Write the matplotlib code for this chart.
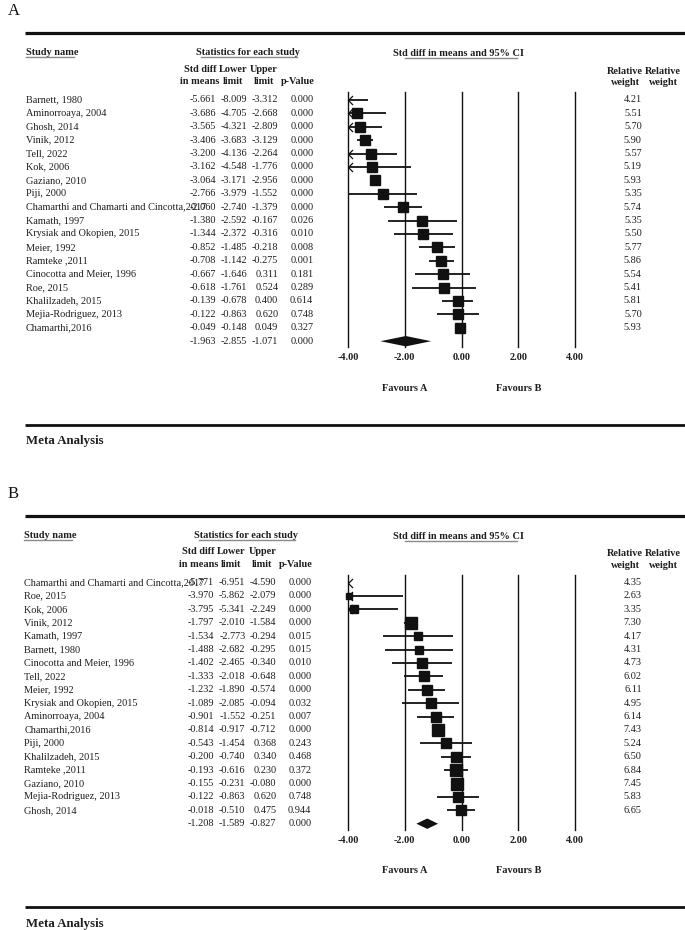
"""Two forest plots (panels A and B) in the CMA report style."""

import matplotlib

matplotlib.use("Agg")
import matplotlib.pyplot as plt
import numpy as np
from matplotlib.path import Path
from matplotlib.transforms import blended_transform_factory as blend

W, H, DPI = 685, 930, 100

# ---- panel A data ----
a_names = [
    "Barnett, 1980", "Aminorroaya, 2004", "Ghosh, 2014", "Vinik, 2012",
    "Tell, 2022", "Kok, 2006", "Gaziano, 2010", "Piji, 2000",
    "Chamarthi and Chamarti and Cincotta,2017", "Kamath, 1997",
    "Krysiak and Okopien, 2015", "Meier, 1992", "Ramteke ,2011",
    "Cinocotta and Meier, 1996", "Roe, 2015", "Khalilzadeh, 2015",
    "Mejia-Rodriguez, 2013", "Chamarthi,2016",
]
a_smd = [-5.661, -3.686, -3.565, -3.406, -3.200, -3.162, -3.064, -2.766, -2.060,
         -1.380, -1.344, -0.852, -0.708, -0.667, -0.618, -0.139, -0.122, -0.049]
a_lo = [-8.009, -4.705, -4.321, -3.683, -4.136, -4.548, -3.171, -3.979, -2.740,
        -2.592, -2.372, -1.485, -1.142, -1.646, -1.761, -0.678, -0.863, -0.148]
a_hi = [-3.312, -2.668, -2.809, -3.129, -2.264, -1.776, -2.956, -1.552, -1.379,
        -0.167, -0.316, -0.218, -0.275, 0.311, 0.524, 0.400, 0.620, 0.049]
a_p = [0.000, 0.000, 0.000, 0.000, 0.000, 0.000, 0.000, 0.000, 0.000,
       0.026, 0.010, 0.008, 0.001, 0.181, 0.289, 0.614, 0.748, 0.327]
a_wt = [4.21, 5.51, 5.70, 5.90, 5.57, 5.19, 5.93, 5.35, 5.74,
        5.35, 5.50, 5.77, 5.86, 5.54, 5.41, 5.81, 5.70, 5.93]
a_total = [-1.963, -2.855, -1.071, 0.000]

# ---- panel B data ----
b_names = [
    "Chamarthi and Chamarti and Cincotta,2017", "Roe, 2015", "Kok, 2006",
    "Vinik, 2012", "Kamath, 1997", "Barnett, 1980", "Cinocotta and Meier, 1996",
    "Tell, 2022", "Meier, 1992", "Krysiak and Okopien, 2015", "Aminorroaya, 2004",
    "Chamarthi,2016", "Piji, 2000", "Khalilzadeh, 2015", "Ramteke ,2011",
    "Gaziano, 2010", "Mejia-Rodriguez, 2013", "Ghosh, 2014",
]
b_smd = [-5.771, -3.970, -3.795, -1.797, -1.534, -1.488, -1.402, -1.333, -1.232,
         -1.089, -0.901, -0.814, -0.543, -0.200, -0.193, -0.155, -0.122, -0.018]
b_lo = [-6.951, -5.862, -5.341, -2.010, -2.773, -2.682, -2.465, -2.018, -1.890,
        -2.085, -1.552, -0.917, -1.454, -0.740, -0.616, -0.231, -0.863, -0.510]
b_hi = [-4.590, -2.079, -2.249, -1.584, -0.294, -0.295, -0.340, -0.648, -0.574,
        -0.094, -0.251, -0.712, 0.368, 0.340, 0.230, -0.080, 0.620, 0.475]
b_p = [0.000, 0.000, 0.000, 0.000, 0.015, 0.015, 0.010, 0.000, 0.000,
       0.032, 0.007, 0.000, 0.243, 0.468, 0.372, 0.000, 0.748, 0.944]
b_wt = [4.35, 2.63, 3.35, 7.30, 4.17, 4.31, 4.73, 6.02, 6.11,
        4.95, 6.14, 7.43, 5.24, 6.50, 6.84, 7.45, 5.83, 6.65]
b_total = [-1.208, -1.589, -0.827, 0.000]

ticks = [-4, -2, 0, 2, 4]

SERIF = ["Liberation Serif", "DejaVu Serif"]
plt.rcParams["font.family"] = SERIF
TXT = "#1e1e1e"
FS = 7.4

# open chevron "<" with its tip at the data point
CHEVRON = Path([(1.0, 1.0), (0.0, 0.0), (1.0, -1.0)],
               [Path.MOVETO, Path.LINETO, Path.LINETO])

fig = plt.figure(figsize=(W / DPI, H / DPI), dpi=DPI)
over = fig.add_axes([0, 0, 1, 1])
over.set_xlim(0, W)
over.set_ylim(H, 0)
over.axis("off")

ROW = 13.4          # pixels per study row
PX0, PX1 = 348, 575  # pixel positions of -4 and +4


def draw_panel(label, top, dx, names, smd, lo, hi, pv, wt, total):
    row0 = top + 67.0
    vtop, vbot = top + 59.5, top + 314.0
    fax = fig.add_axes([PX0 / W, 1 - vbot / H, (PX1 - PX0) / W, (vbot - vtop) / H])
    fax.set_facecolor("none")
    fax.set_xlim(-4, 4)
    fax.set_ylim((vbot - row0) / ROW, (vtop - row0) / ROW)
    for s in fax.spines.values():
        s.set_visible(False)
    fax.set_yticks([])
    fax.set_xticks(ticks)
    fax.set_xticklabels([f"{t:.2f}" for t in ticks], fontsize=FS, fontweight="bold",
                        color=TXT)
    fax.tick_params(axis="x", length=0, pad=4.5)
    for t in ticks:
        fax.axvline(t, color="#111111", lw=1.0, zorder=1, clip_on=False)

    n = len(names)
    rows = np.arange(n)
    for i in rows:
        a, b, m = lo[i], hi[i], smd[i]
        if b > -4:
            fax.plot([max(a, -4), min(b, 4)], [i, i], color="#111111", lw=1.3,
                     solid_capstyle="butt", zorder=2, clip_on=False)
        if a < -4:
            fax.plot(-4, i, marker=CHEVRON, ms=6.5, mfc="none", mec="#111111",
                     mew=0.9, zorder=3, clip_on=False)
        if m > -4:
            fax.plot(m, i, marker="s", ms=4.25 * np.sqrt(wt[i]) * 72 / DPI,
                     color="#111111", zorder=3, clip_on=False)
    t_m, t_lo, t_hi, t_p = total
    hh = 5.2 / ROW
    fax.fill([t_lo, t_m, t_hi, t_m], [n, n - hh, n, n + hh], color="#111111",
             lw=0, zorder=3)

    tr = blend(over.transData, fax.transData)
    for i in rows:
        over.text(26 + dx, i, names[i], transform=tr, ha="left", va="center",
                  fontsize=FS, color=TXT)
        for xr, v in zip((216, 247.3, 278.3, 313.3), (smd[i], lo[i], hi[i], pv[i])):
            over.text(xr + dx, i, f"{v:.3f}", transform=tr, ha="right",
                      va="center", fontsize=FS, color=TXT)
        over.text(641.7, i, f"{wt[i]:.2f}", transform=tr, ha="right",
                  va="center", fontsize=FS, color=TXT)
    for xr, v in zip((216, 247.3, 278.3, 313.3), (t_m, t_lo, t_hi, t_p)):
        over.text(xr + dx, n, f"{v:.3f}", transform=tr, ha="right", va="center",
                  fontsize=FS, color=TXT)

    # favours labels under -2 and +2
    ftr = blend(fax.transData, over.transData)
    over.text(-2, top + 355, "Favours A", transform=ftr, ha="center", va="center",
              fontsize=FS, fontweight="bold", color=TXT)
    over.text(2, top + 355, "Favours B", transform=ftr, ha="center", va="center",
              fontsize=FS, fontweight="bold", color=TXT)

    # frame lines and headers
    over.text(8, top - 22, label, ha="left", va="center", fontsize=12, color="#111111")
    over.plot([25, W], [top, top], color="#111111", lw=2.3, solid_capstyle="butt")
    over.plot([25, W], [top + 391.5, top + 391.5], color="#111111", lw=2.0,
              solid_capstyle="butt")
    over.text(26, top + 408, "Meta Analysis", ha="left", va="center", fontsize=9.3,
              fontweight="bold", color=TXT)

    hy = top + 19.5
    over.text(26 + dx, hy, "Study name", ha="left", va="center", fontsize=FS,
              fontweight="bold", color=TXT)
    over.plot([26 + dx, 74 + dx], [hy + 5, hy + 5], color="#8a8a8a", lw=1.0)
    over.text(248 + dx, hy, "Statistics for each study", ha="center", va="center",
              fontsize=FS, fontweight="bold", color=TXT)
    over.plot([201 + dx, 297 + dx], [hy + 5, hy + 5], color="#8a8a8a", lw=1.0)
    over.text(459, hy + 1, "Std diff in means and 95% CI", ha="center", va="center",
              fontsize=FS, fontweight="bold", color=TXT)
    over.plot([405, 517], [hy + 6, hy + 6], color="#8a8a8a", lw=1.0)

    y1, y2 = top + 36, top + 48.5
    for xc, l1, l2 in ((200, "Std diff", "in means"), (233, "Lower", "limit"),
                       (264, "Upper", "limit"), (298, "", "p-Value")):
        over.text(xc + dx, y1, l1, ha="center", va="center", fontsize=FS,
                  fontweight="bold", color=TXT)
        over.text(xc + dx, y2, l2, ha="center", va="center", fontsize=FS,
                  fontweight="bold", color=TXT)
    for xc in (625, 663):
        over.text(xc, y1 + 2, "Relative", ha="center", va="center", fontsize=FS,
                  fontweight="bold", color=TXT)
        over.text(xc, y2 + 1, "weight", ha="center", va="center", fontsize=FS,
                  fontweight="bold", color=TXT)


draw_panel("A", 33.0, 0.0, a_names, a_smd, a_lo, a_hi, a_p, a_wt, a_total)
draw_panel("B", 515.5, -1.8, b_names, b_smd, b_lo, b_hi, b_p, b_wt, b_total)

fig.savefig("out.png", dpi=DPI, facecolor="white")
